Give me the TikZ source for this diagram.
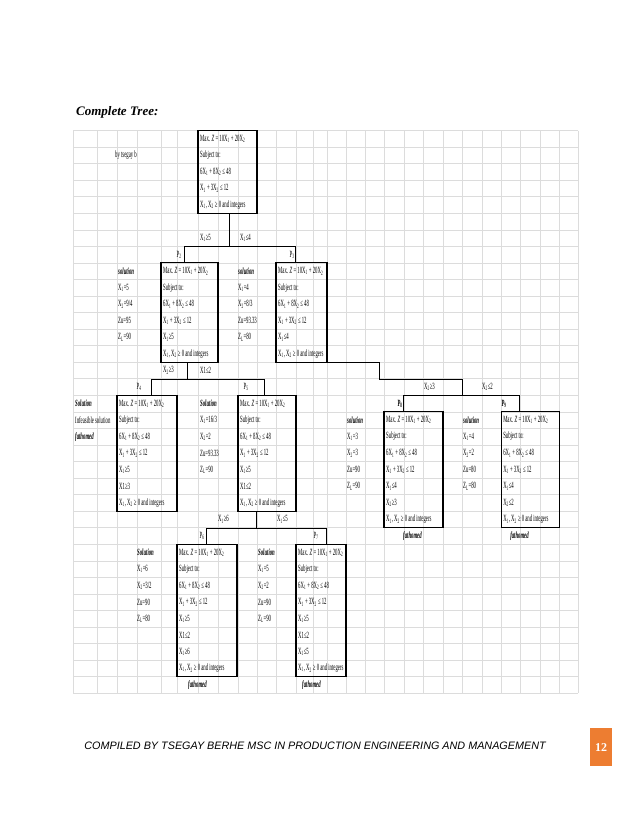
\documentclass[tikz,border=0pt]{standalone}
\usepackage{fontspec}
\setmainfont{Liberation Serif}
\newfontfamily\cellfont[FakeStretch=0.5]{Liberation Serif}
\newfontfamily\footfont{Liberation Sans}
\usepackage{tikz}
\usetikzlibrary{fit}
\definecolor{pagenum}{HTML}{ED7D31}
\definecolor{gridgray}{HTML}{DCDCDC}
\newcommand\Xs[1]{X\textsubscript{#1}}

\begin{document}
\begin{tikzpicture}[x=1pt, y=-16.55pt,
    gridline/.style={gridgray, line width=0.6pt},
    cellbox/.style={draw, line width=1.1pt, inner sep=0pt},
    link/.style={line width=1.1pt},
    cell/.style={anchor=west, inner sep=0pt, font=\cellfont\fontsize{9.5}{10}\selectfont},
    hd/.style={cell, font=\cellfont\fontsize{9.5}{10}\selectfont\bfseries\itshape},
    plabel/.style={cell, anchor=center}]
    \def\obj{Max. \textit{Z} = 10\Xs1 + 20\Xs2}
    \def\cA{6\Xs1 + 8\Xs2 ≤ 48}
    \def\cB{\Xs1 + 3\Xs2 ≤ 12}
    \def\last{\Xs1, \Xs2 ≥ 0 and integers}
    \useasboundingbox (0,-7.885) rectangle (638,42.02);
    \fill[white] (0,-7.885) rectangle (638,42.02);
    \node[anchor=west, inner sep=0pt, font=\bfseries\itshape\fontsize{13}{15}\selectfont] (title) at (76,-1.12) {Complete Tree:};
    \foreach \c in {73,97,117,137,161,177,198,218,238,257,276,296,313,327,346,365,384,404,423,443,462,482,501,520,540,559,578}
        \draw[gridline] (\c,0) -- (\c,34);
    \foreach \r in {0,...,34}
        \draw[gridline] (73,\r) -- (578,\r);
    \node[cellbox, fit={(198,0) (257,5)}] (root) {};
    \node[cellbox, fit={(161,8) (218,14)}] (p2) {};
    \node[cellbox, fit={(276,8) (327,14)}] (p3) {};
    \node[cellbox, fit={(117,16) (177,23)}] (p4) {};
    \node[cellbox, fit={(238,16) (296,23)}] (p5) {};
    \node[cellbox, fit={(384,17) (443,24)}] (p8) {};
    \node[cellbox, fit={(501,17) (559,24)}] (p9) {};
    \node[cellbox, fit={(177,25) (237,33)}] (p6) {};
    \node[cellbox, fit={(296,25) (346,33)}] (p7) {};
    \foreach \t [count=\i from 0] in {{\obj},{Subject to:},{\cA},{\cB},{\last}}
        \node[cell] at (200,\i+0.5) {\t};
    \node[cell] (author) at (115,1.5) {by tsegay b};
    \foreach \t [count=\i from 8] in {{\obj},{Subject to:},{\cA},{\cB},{\Xs1≥5},{\last}}
        \node[cell] at (163,\i+0.5) {\t};
    \foreach \t [count=\i from 8] in {{\obj},{Subject to:},{\cA},{\cB},{\Xs1≤4},{\last}}
        \node[cell] at (278,\i+0.5) {\t};
    \foreach \t [count=\i from 16] in {{\obj},{Subject to:},{\cA},{\cB},{\Xs1≥5},{X1≥3},{\last}}
        \node[cell] at (119,\i+0.5) {\t};
    \foreach \t [count=\i from 16] in {{\obj},{Subject to:},{\cA},{\cB},{\Xs1≥5},{X1≤2},{\last}}
        \node[cell] at (240,\i+0.5) {\t};
    \foreach \t [count=\i from 17] in {{\obj},{Subject to:},{\cA},{\cB},{\Xs1≤4},{\Xs2≥3},{\last}}
        \node[cell] at (386,\i+0.5) {\t};
    \foreach \t [count=\i from 17] in {{\obj},{Subject to:},{\cA},{\cB},{\Xs1≤4},{\Xs2≤2},{\last}}
        \node[cell] at (503,\i+0.5) {\t};
    \foreach \t [count=\i from 25] in {{\obj},{Subject to:},{\cA},{\cB},{\Xs1≥5},{X1≤2},{\Xs1≥6},{\last}}
        \node[cell] at (179,\i+0.5) {\t};
    \foreach \t [count=\i from 25] in {{\obj},{Subject to:},{\cA},{\cB},{\Xs1≥5},{X1≤2},{\Xs1≤5},{\last}}
        \node[cell] at (298,\i+0.5) {\t};
    \node[hd] (s2) at (118,8.5) {solution};
    \foreach \t [count=\i from 9] in {{\Xs1=5},{\Xs2=9/4},{Zu=95},{Z\textsubscript{L}=90}}
        \node[cell] at (118,\i+0.5) {\t};
    \node[hd] (s3) at (238,8.5) {solution};
    \foreach \t [count=\i from 9] in {{\Xs1=4},{\Xs2=8/3},{Zu=93.33},{Z\textsubscript{L}=80}}
        \node[cell] at (238,\i+0.5) {\t};
    \node[hd] (s4) at (75,16.5) {Solution};
    \node[cell] (inf) at (75,17.5) {Infeasible solution};
    \node[hd] (f4) at (75,18.5) {fathomed};
    \node[hd] (s5) at (200,16.5) {Solution};
    \foreach \t [count=\i from 17] in {{\Xs1=16/3},{\Xs2=2},{Zu=93.33},{Z\textsubscript{L}=90}}
        \node[cell] at (200,\i+0.5) {\t};
    \node[hd] (s8) at (347,17.5) {solution};
    \foreach \t [count=\i from 18] in {{\Xs1=3},{\Xs2=3},{Zu=90},{Z\textsubscript{L}=90}}
        \node[cell] at (347,\i+0.5) {\t};
    \node[hd] (s9) at (463,17.5) {solution};
    \foreach \t [count=\i from 18] in {{\Xs1=4},{\Xs2=2},{Zu=80},{Z\textsubscript{L}=80}}
        \node[cell] at (463,\i+0.5) {\t};
    \node[hd] (s6) at (137,25.5) {Solution};
    \foreach \t [count=\i from 26] in {{\Xs1=6},{\Xs2=3/2},{Zu=90},{Z\textsubscript{L}=80}}
        \node[cell] at (137,\i+0.5) {\t};
    \node[hd] (s7) at (258,25.5) {Solution};
    \foreach \t [count=\i from 26] in {{\Xs1=5},{\Xs2=2},{Zu=90},{Z\textsubscript{L}=90}}
        \node[cell] at (258,\i+0.5) {\t};
    \node[hd] (f8) at (403,24.5) {fathomed};
    \node[hd] (f9) at (510,24.5) {fathomed};
    \node[hd] (f6) at (188,33.5) {fathomed};
    \node[hd] (f7) at (302,33.5) {fathomed};
    \node[cell] (b1) at (200,6.5) {\Xs1≥5};
    \node[cell] (b2) at (240,6.5) {\Xs1≤4};
    \node[cell] (b3) at (163,14.5) {\Xs2≥3};
    \node[cell] (b4) at (200,14.5) {X1≤2};
    \node[cell] (b5) at (424,15.5) {\Xs2≥3};
    \node[cell] (b6) at (482,15.5) {\Xs2≤2};
    \node[cell] (b7) at (218,23.5) {\Xs1≥6};
    \node[cell] (b8) at (277,23.5) {\Xs1≤5};
    \node[plabel] (n2) at (179,7.5) {P\textsubscript{2}};
    \node[plabel] (n3) at (292,7.5) {P\textsubscript{3}};
    \node[plabel] (n4) at (139,15.5) {P\textsubscript{4}};
    \node[plabel] (n5) at (246,15.5) {P\textsubscript{5}};
    \node[plabel, font=\cellfont\fontsize{9.5}{10}\selectfont\bfseries] (n8) at (400,16.5) {P\textsubscript{8}};
    \node[plabel, font=\cellfont\fontsize{9.5}{10}\selectfont\bfseries] (n9) at (504,16.5) {P\textsubscript{9}};
    \node[plabel] (n6) at (202,24.5) {P\textsubscript{6}};
    \node[plabel] (n7) at (316,24.5) {P\textsubscript{7}};
    \draw[link] ([xshift=32pt]root.south west) -- ++(0,2) coordinate (j1);
    \draw[link] ([xshift=24pt]p2.north west) |- (j1) -| ([xshift=20pt]p3.north west);
    \draw[link] ([xshift=27pt]p2.south west) -- ++(0,1) coordinate (j2);
    \draw[link] ([xshift=35pt]p4.north west) |- (j2) -| ([xshift=27pt]p5.north west);
    \draw[link] (p3.south east) -- ++(52,0) -- ++(0,1) -- ++(83,0) -- ++(0,1) coordinate (j3);
    \draw[link] ([xshift=20pt]p8.north west) |- (j3) -| ([xshift=19pt]p9.north west);
    \draw[link] ([xshift=19pt]p5.south west) -- ++(0,1) coordinate (j4);
    \draw[link] ([xshift=30pt]p6.north west) |- (j4) -| ([xshift=31pt]p7.north west);
    \node[inner sep=0pt, font=\footfont\itshape\fontsize{10.8}{12}\selectfont] (foot) at (315,37.19) {COMPILED BY TSEGAY BERHE MSC IN PRODUCTION ENGINEERING AND MANAGEMENT};
    \node[fill=pagenum, minimum width=22pt, minimum height=38pt, inner sep=0pt, text=white, font=\bfseries\fontsize{12}{14}\selectfont] (page) at (601,37.25) {12};
\end{tikzpicture}
\end{document}
